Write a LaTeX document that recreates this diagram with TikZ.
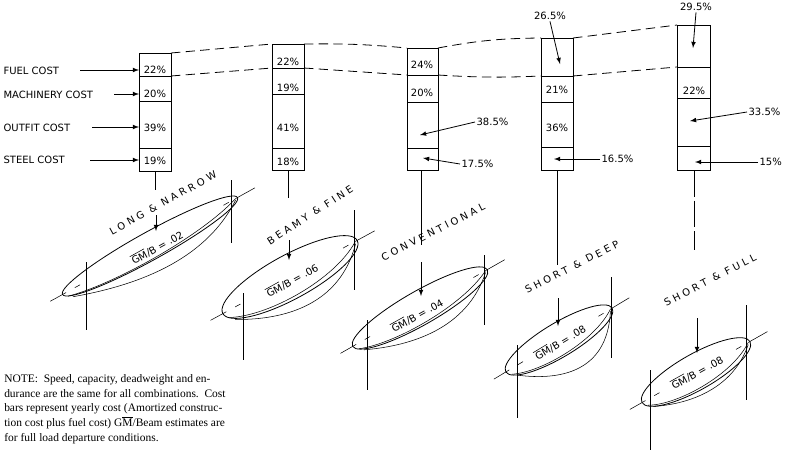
\documentclass[tikz,border=0pt]{standalone}
\usepackage{fontspec}
\setmainfont{Liberation Serif}
\newfontfamily\plot{DejaVu Sans}
\begin{document}
\begin{tikzpicture}[x=0.75pt,y=-0.75pt,
 lbl/.style={font=\plot\fontsize{7.5}{8}\selectfont,inner sep=1pt},
 hl/.style={font=\plot\fontsize{7.5}{8}\selectfont,inner sep=0pt},
 arr/.style={-latex,semithick},
 bar/.style={draw,semithick},
 cl/.style={thin},
 ln/.style={thin}]
\useasboundingbox (0,0) rectangle (785,454);
% labels on left
\node[lbl,anchor=west] (fl) at (2,71) {FUEL COST};
\node[lbl,anchor=west] (ml) at (2,95) {MACHINERY COST};
\node[lbl,anchor=west] (ol) at (2,128) {OUTFIT COST};
\node[lbl,anchor=west] (sl) at (2,160) {STEEL COST};
\coordinate (fa) at (80,70); \coordinate (fb) at (139,70);
\coordinate (ma) at (114,94); \coordinate (mb) at (139,94);
\coordinate (oa) at (92,127); \coordinate (ob) at (139,127);
\coordinate (sa) at (90,160); \coordinate (sb) at (139,160);
\draw[arr] (fa)--(fb); \draw[arr] (ma)--(mb); \draw[arr] (oa)--(ob); \draw[arr] (sa)--(sb);
\newcommand\costbar[7]{\draw[bar] (#1,#3) rectangle (#2,#7);
 \draw[semithick] (#1,#4)--(#2,#4) (#1,#5)--(#2,#5) (#1,#6)--(#2,#6);}
\costbar{139}{171}{53}{76}{101}{148}{171}
\costbar{272}{304}{44}{68}{94}{148}{170}
\costbar{407}{438}{48}{75}{102}{148}{170}
\costbar{541}{573}{38}{76}{102}{147}{170}
\costbar{677}{710}{25}{67}{98}{146}{170}
\node[lbl] (a1) at (155,70) {22\%};
\node[lbl] (a2) at (155,94) {20\%};
\node[lbl] (a3) at (155,128) {39\%};
\node[lbl] (a4) at (155,161) {19\%};
\node[lbl] (b1) at (288,62) {22\%};
\node[lbl] (b2) at (288,88) {19\%};
\node[lbl] (b3) at (288,128) {41\%};
\node[lbl] (b4) at (288,162) {18\%};
\node[lbl] (c1) at (422,65) {24\%};
\node[lbl] (c2) at (422,93) {20\%};
\node[lbl,anchor=west] (c3) at (475,122) {38.5\%};
\node[lbl,anchor=west] (c4) at (460,164) {17.5\%};
\coordinate (c3e) at (420,135); \coordinate (c4e) at (423,158);
\draw[arr] (c3.west)--(c3e); \draw[arr] (c4.west)--(c4e);
\node[lbl] (d1) at (550,16) {26.5\%};
\node[lbl] (d2) at (557,90) {21\%};
\node[lbl] (d3) at (557,128) {36\%};
\node[lbl,anchor=west] (d4) at (600,159) {16.5\%};
\coordinate (d1e) at (560,64); \coordinate (d4e) at (554,159);
\draw[arr] (d1.south)--(d1e); \draw[arr] (d4.west)--(d4e);
\node[lbl] (e1) at (696,7) {29.5\%};
\node[lbl] (e2) at (694,91) {22\%};
\node[lbl,anchor=west] (e3) at (747,112) {33.5\%};
\node[lbl,anchor=west] (e4) at (758,162) {15\%};
\coordinate (e1e) at (693,48); \coordinate (e3e) at (690,121); \coordinate (e4e) at (695,162);
\draw[arr] (e1.south)--(e1e); \draw[arr] (e3.west)--(e3e); \draw[arr] (e4.west)--(e4e);
\draw[semithick,dash pattern=on 7pt off 4pt] (171,53)--(272,44) (304,44) to[bend left=3] (407,48) (438,48) to[bend left=5] (541,38) (573,38)--(677,25);
\draw[semithick,dash pattern=on 7pt off 4pt] (171,76)--(272,68) (304,68)--(407,75) (438,75) to[bend right=3] (541,76) (573,76)--(677,67);
\draw[semithick] (155,171)--(155,190);
\draw[semithick] (288,170)--(288,198);
\draw[semithick] (421,170)--(421,245);
\draw[semithick] (557,170)--(557,265);
\draw[semithick,dash pattern=on 20pt off 3pt] (694,170)--(694,250);
% hull: cx cy angle L b depth
\newcommand\hull[6]{\begin{scope}[shift={(#1,#2)},rotate=#3]
 \draw[semithick] (0,0) ellipse [x radius=#4/2, y radius=#5];
 \draw[thin] (-#4/2+8,#5*0.5) .. controls (-#4/6,#5+#6*0.6) and (#4/5,#5+#6*1.2) .. (#4/2-3,#5*0.1);
 \draw[thin] (-#4/2+4,#5*0.3) .. controls (-#4/4,#5+2) and (#4/4,#5+2) .. (#4/2-2,0);
 \draw[cl] (-#4/2-14,0)--(-#4/2+4,0) (-#4/2+14,0)--(-#4/2+20,0) (#4/2-16,0)--(#4/2-10,0) (#4/2-2,0)--(#4/2+20,0);
 \end{scope}}
\hull{150}{246}{29}{200}{14}{22}
\hull{290}{277}{28.6}{153}{22}{22}
\hull{420}{308}{29.7}{155}{17}{20}
\hull{559}{340}{31}{124}{17}{30}
\hull{696}{372}{29.5}{124}{18}{12}
\draw[ln] (86,262)--(86,330) (231,180)--(231,243);
\draw[ln] (243,293)--(243,360) (354,210)--(354,290);
\draw[ln] (367,320)--(367,390) (484,255)--(484,325);
\draw[ln] (517,345)--(517,418) (611,277)--(611,358);
\draw[ln] (650,370)--(650,450) (746,305)--(746,400);
\node[hl,rotate=29] (h1) at (163,203) {L O N G \ \& \ N A R R O W};
\node[hl,rotate=33] (h2) at (310,215) {B E A M Y \ \& \ F I N E};
\node[hl,rotate=27] (h3) at (433,232) {C O N V E N T I O N A L};
\node[hl,rotate=27] (h4) at (572,267) {S H O R T \ \& \ D E E P};
\node[hl,rotate=27] (h5) at (710,280) {S H O R T \ \& \ F U L L};
\node[hl,rotate=29] (g1) at (157,247) {$\overline{\mbox{GM}}$/B = .02};
\node[hl,rotate=29] (g2) at (292,280) {$\overline{\mbox{GM}}$/B = .06};
\node[hl,rotate=29] (g3) at (417,315) {$\overline{\mbox{GM}}$/B = .04};
\node[hl,rotate=31] (g4) at (560,342) {$\overline{\mbox{GM}}$/B = .08};
\node[hl,rotate=29] (g5) at (697,372) {$\overline{\mbox{GM}}$/B = .08};
\coordinate (t1) at (156,215); \coordinate (u1) at (156,231);
\coordinate (t2) at (289,240); \coordinate (u2) at (289,260);
\coordinate (t3) at (421,262); \coordinate (u3) at (421,296);
\coordinate (t4) at (558,298); \coordinate (u4) at (558,326);
\coordinate (t5) at (697,318); \coordinate (u5) at (697,353);
\foreach \i in {1,...,5} \draw[arr] (t\i)--(u\i);
\node[anchor=north west,inner sep=0pt,align=left,font=\fontsize{8.6}{11.1}\selectfont] (note) at (4,374)
{NOTE:\ \ Speed, capacity, deadweight and en-\\
durance are the same for all combinations.\ \ Cost\\
bars represent yearly cost (Amortized construc-\\
tion cost plus fuel cost) G$\overline{\mbox{M}}$/Beam estimates are\\
for full load departure conditions.};
\end{tikzpicture}
\end{document}
